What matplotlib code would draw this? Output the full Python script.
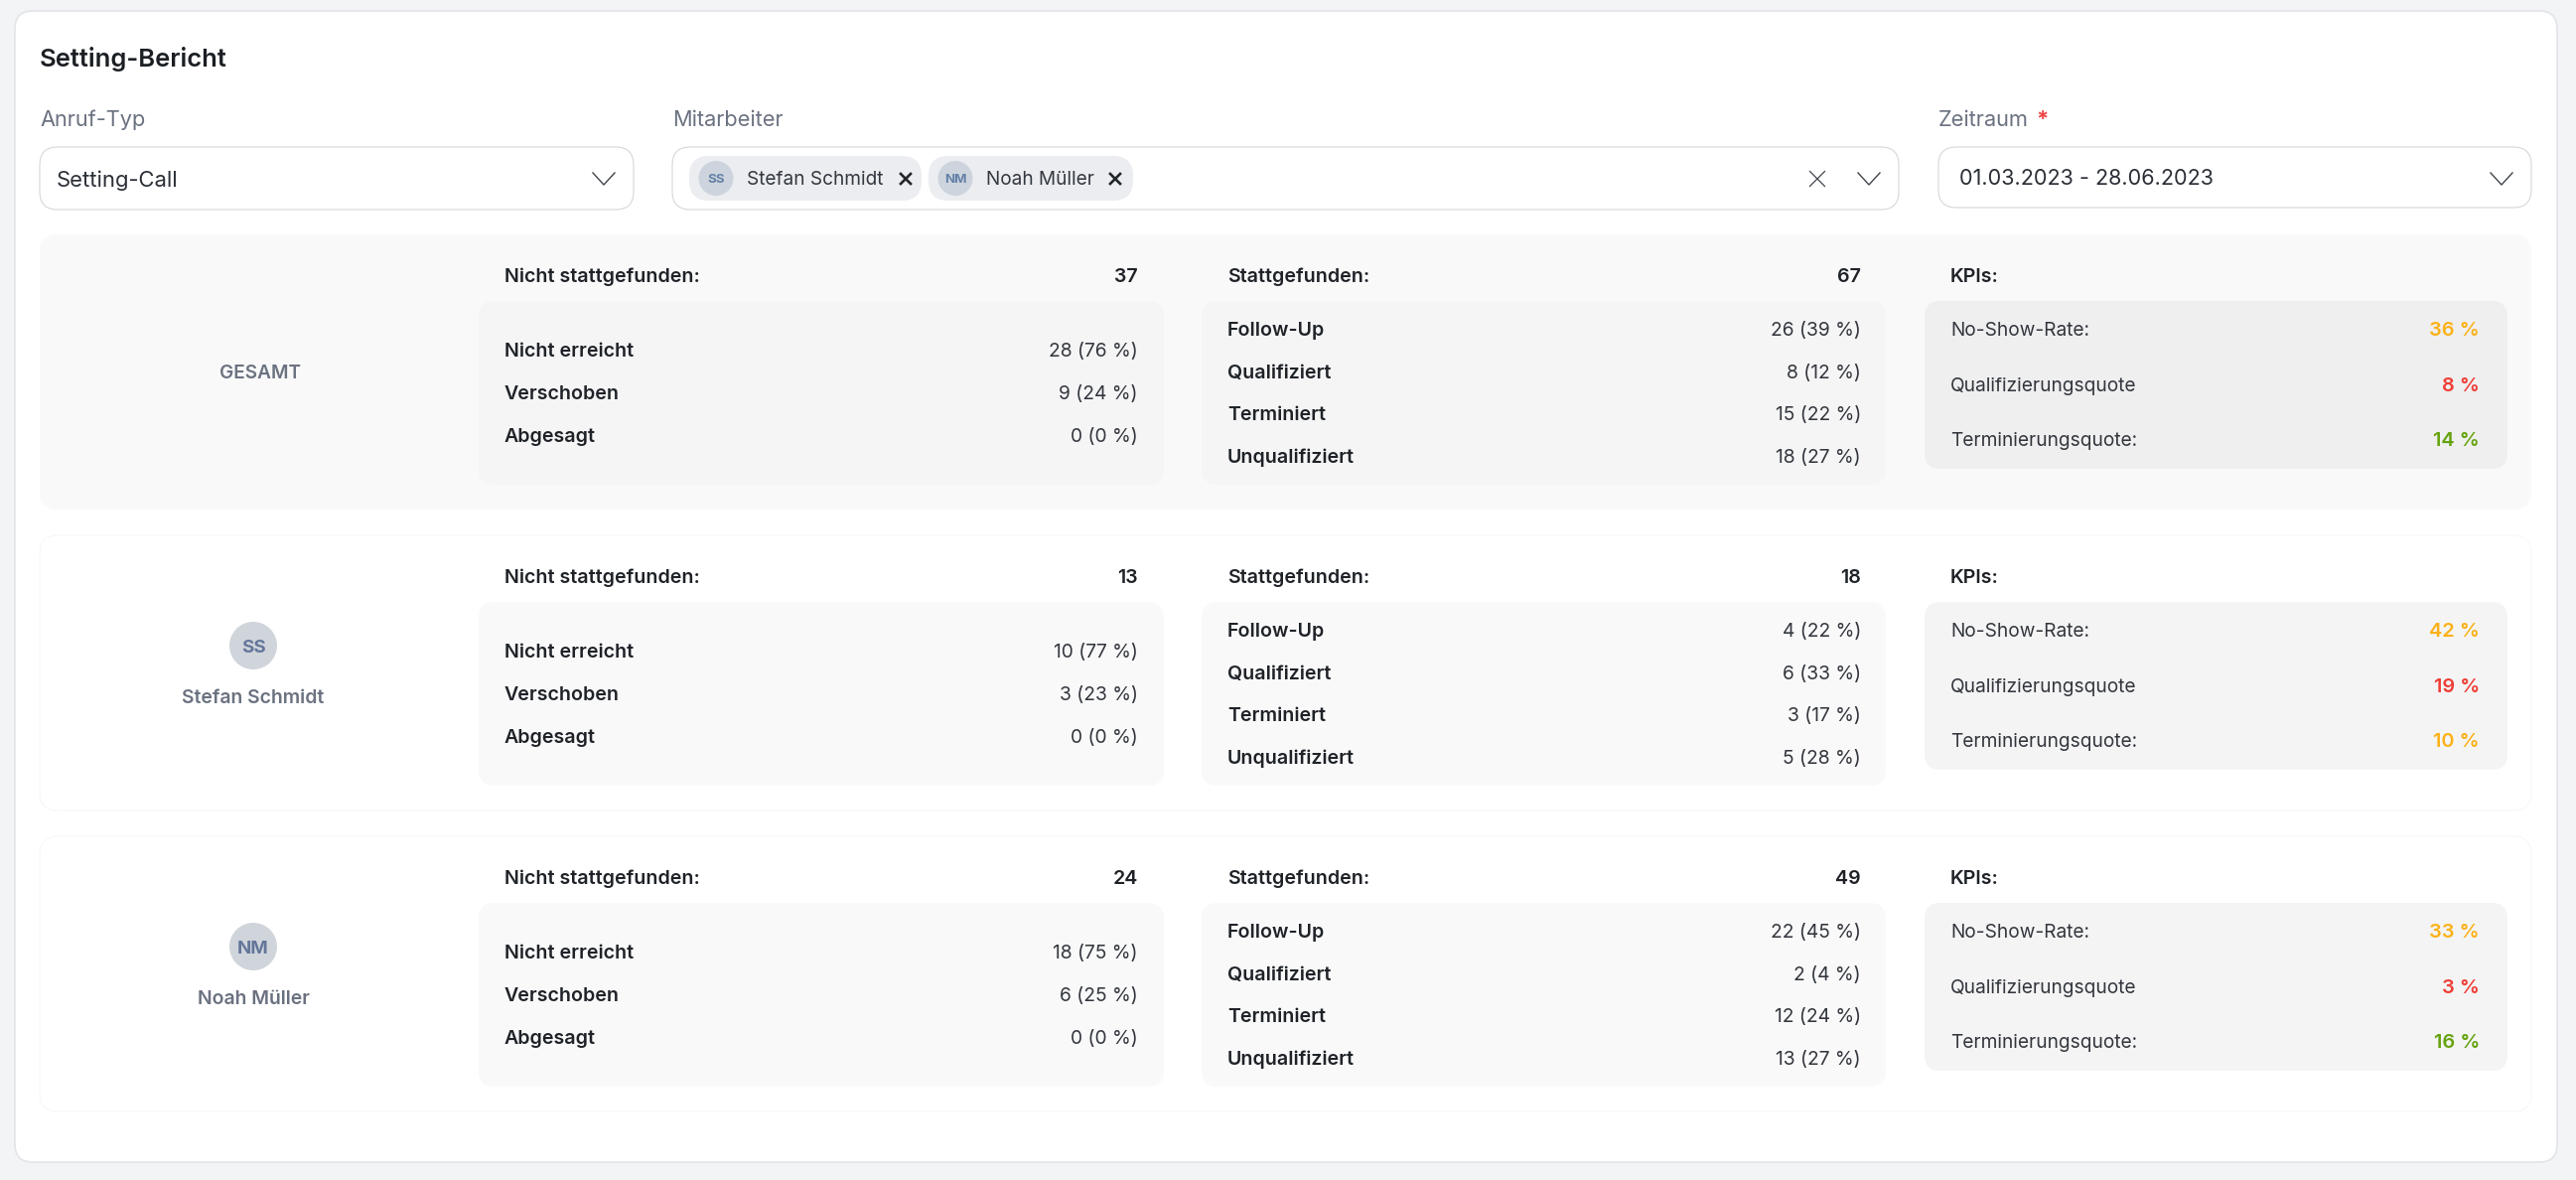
#!/usr/bin/env python3
# -*- coding: utf-8 -*-
import matplotlib
matplotlib.use("Agg")
import matplotlib.pyplot as plt
from matplotlib.patches import Circle, FancyBboxPatch

W, H = 2594, 1188
ROW_STEP = 303

plt.rcParams["font.family"] = ["Inter", "DejaVu Sans"]

TITLE = "Setting-Bericht"
FILTER_LABELS = ["Anruf-Typ", "Mitarbeiter", "Zeitraum"]
CALL_TYPE = "Setting-Call"
PERIOD = "01.03.2023 - 28.06.2023"

ROW_NAMES = ["GESAMT", "Stefan Schmidt", "Noah Müller"]
INITIALS = [None, "SS", "NM"]

MISSED_LABELS = ["Nicht erreicht", "Verschoben", "Abgesagt"]
MISSED_TOTAL = [37, 13, 24]
MISSED_COUNT = [[28, 9, 0], [10, 3, 0], [18, 6, 0]]
MISSED_PCT = [[76, 24, 0], [77, 23, 0], [75, 25, 0]]

HELD_LABELS = ["Follow-Up", "Qualifiziert", "Terminiert", "Unqualifiziert"]
HELD_TOTAL = [67, 18, 49]
HELD_COUNT = [[26, 8, 15, 18], [4, 6, 3, 5], [22, 2, 12, 13]]
HELD_PCT = [[39, 12, 22, 27], [22, 33, 17, 28], [45, 4, 24, 27]]

KPI_LABELS = ["No-Show-Rate:", "Qualifizierungsquote", "Terminierungsquote:"]
KPI_VALUES = [[36, 8, 14], [42, 19, 10], [33, 3, 16]]
KPI_COLORS = [
    ["#fbb117", "#ef3e36", "#65a30d"],
    ["#fbb117", "#ef3e36", "#fbb117"],
    ["#fbb117", "#ef3e36", "#65a30d"],
]

DARK = "#1f2328"
GREY = "#6b7280"
BODY = 19.6


def txt(ax, x, y, s, size, color=DARK, weight="normal", ha="left"):
    # y is the middle of the cap height, size is in pixels
    ax.text(x, y + 0.36 * size, s, fontsize=size * 0.72, color=color,
            fontweight=weight, ha=ha, va="baseline", zorder=5)


def box(ax, x0, y0, x1, y1, fc, ec="none", r=14, lw=1.0, z=1):
    ax.add_patch(FancyBboxPatch((x0 + r, y0 + r), x1 - x0 - 2 * r, y1 - y0 - 2 * r,
                                boxstyle=f"round,pad={r},rounding_size={r}",
                                fc=fc, ec=ec, lw=lw, zorder=z))


def chevron(ax, x, y):
    ax.plot([x - 11, x, x + 11], [y - 6, y + 6, y - 6], color="#3f444b", lw=1.0, zorder=3)


def cross(ax, x, y, s, lw, color):
    ax.plot([x - s, x + s], [y - s, y + s], color=color, lw=lw, zorder=3)
    ax.plot([x - s, x + s], [y + s, y - s], color=color, lw=lw, zorder=3)


def draw_filters(ax):
    txt(ax, 40, 58, TITLE, 25.6, color="#1b1f24", weight="semibold")
    for x, label in zip([40, 677, 1952], FILTER_LABELS):
        txt(ax, x, 119, label, 21.8, color=GREY)
    ax.text(2056, 127, "*", fontsize=16, color="#ef4444", fontweight="bold",
            ha="center", va="baseline")

    box(ax, 40, 148, 638, 211, "white", ec="#d6d7db", r=18, lw=0.8)
    box(ax, 677, 148, 1912, 211, "white", ec="#d6d7db", r=18, lw=0.8)
    box(ax, 1952, 148, 2549, 209, "white", ec="#d6d7db", r=18, lw=0.8)

    txt(ax, 57, 180, CALL_TYPE, 22, color="#2b2f36")
    chevron(ax, 608, 180)

    chips = [(694, 928, 721, 752, 912), (935, 1141, 962, 993, 1123)]
    for i, (x0, x1, cx, tx, xx) in enumerate(chips):
        box(ax, x0, 157, x1, 202, "#ebedf0", r=20, z=2)
        ax.add_patch(Circle((cx, 179.5), 17.5, fc="#cdd4dd", ec="none", zorder=3))
        ax.text(cx, 179.5 + 5, INITIALS[i + 1], fontsize=9.6, color="#6480a8",
                fontweight="bold", ha="center", va="baseline", zorder=4)
        ax.text(tx, 179.5 + 7, ROW_NAMES[i + 1], fontsize=13.7, color="#343840",
                ha="left", va="baseline", zorder=4)
        cross(ax, xx, 180, 5, 1.9, "#22262b")

    cross(ax, 1830, 180, 7.5, 0.9, "#3f444b")
    chevron(ax, 1882, 180)
    txt(ax, 1973, 178, PERIOD, 21.6, color="#2b2f36")
    chevron(ax, 2519, 180)


def draw_row(ax, i):
    dy = i * ROW_STEP
    if i == 0:
        box(ax, 40, 236, 2549, 513, "#f9f9fa", r=18, z=1)
        fills = ["#f5f5f6", "#f5f5f6", "#efeff0"]
        txt(ax, 262, 374, ROW_NAMES[i], 19, color=GREY, weight="semibold", ha="center")
    else:
        box(ax, 40, 236 + dy, 2549, 513 + dy, "white", ec="#f5f6f7", r=18, lw=0.7, z=1)
        fills = ["#f9f9fa", "#f9f9fa", "#f4f4f5"]
        ax.add_patch(Circle((255, 347 + dy), 24, fc="#d0d5dc", ec="none", zorder=3))
        ax.text(255, 347 + dy + 7, INITIALS[i], fontsize=13.5, color="#64779a",
                fontweight="bold", ha="center", va="baseline", zorder=4)
        txt(ax, 255, 398 + dy, ROW_NAMES[i], 19.4, color=GREY, weight="semibold", ha="center")

    box(ax, 482, 303 + dy, 1172, 488 + dy, fills[0], r=16, z=2)
    box(ax, 1210, 303 + dy, 1899, 488 + dy, fills[1], r=16, z=2)
    box(ax, 1938, 303 + dy, 2525, 472 + dy, fills[2], r=16, z=2)

    txt(ax, 508, 277 + dy, "Nicht stattgefunden:", BODY, weight="semibold")
    txt(ax, 1146, 277 + dy, str(MISSED_TOTAL[i]), BODY, weight="semibold", ha="right")
    txt(ax, 1236, 277 + dy, "Stattgefunden:", BODY, weight="semibold")
    txt(ax, 1874, 277 + dy, str(HELD_TOTAL[i]), BODY, weight="semibold", ha="right")
    txt(ax, 1964, 277 + dy, "KPIs:", BODY, weight="semibold")

    for y, label, n, p in zip([352, 395, 438], MISSED_LABELS, MISSED_COUNT[i], MISSED_PCT[i]):
        txt(ax, 508, y + dy, label, BODY, weight="semibold")
        txt(ax, 1146, y + dy, f"{n} ({p} %)", 19.2, color="#33373d", ha="right")
    for y, label, n, p in zip([331, 374, 416, 459], HELD_LABELS, HELD_COUNT[i], HELD_PCT[i]):
        txt(ax, 1236, y + dy, label, BODY, weight="semibold")
        txt(ax, 1874, y + dy, f"{n} ({p} %)", 19.2, color="#33373d", ha="right")
    for y, label, v, c in zip([331, 387, 442], KPI_LABELS, KPI_VALUES[i], KPI_COLORS[i]):
        txt(ax, 1964, y + dy, label, 19.1, color="#33373d")
        txt(ax, 2497, y + dy, f"{v} %", 20, color=c, weight="semibold", ha="right")


def main():
    fig = plt.figure(figsize=(W / 100, H / 100), dpi=100, facecolor="#f3f4f6")
    ax = fig.add_axes([0, 0, 1, 1])
    ax.set_xlim(0, W)
    ax.set_ylim(H, 0)
    ax.axis("off")

    box(ax, 15, 11, 2575, 1170, "white", ec="#e2e4e8", r=18, lw=1.2, z=0)
    draw_filters(ax)
    for i in range(len(ROW_NAMES)):
        draw_row(ax, i)

    fig.savefig("out.png", dpi=100, facecolor=fig.get_facecolor())
    plt.close(fig)


if __name__ == "__main__":
    main()
